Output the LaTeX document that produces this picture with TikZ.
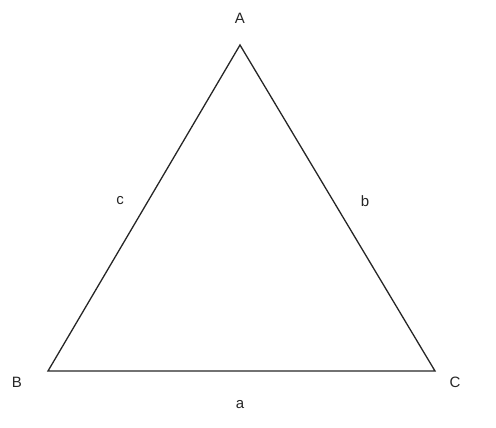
\documentclass[tikz,border=0pt]{standalone}
\usepackage{fontspec}
\setmainfont{Liberation Sans}
\begin{document}
\begin{tikzpicture}[x=1pt,y=-1pt,
  lbl/.style={font=\fontsize{15}{18}\selectfont, inner sep=0pt, text=black!85},
  side/.style={line width=1.3pt, line join=miter, black!85}]
\useasboundingbox (0,0) rectangle (496,428);
\coordinate (A) at (240,45);
\coordinate (B) at (48,371);
\coordinate (C) at (435,371);
\draw[side] (A) -- (B) -- (C) -- cycle;
\node[lbl] (la) at (240,18) {A};
\node[lbl] (lb) at (17,382) {B};
\node[lbl] (lc) at (455,382) {C};
\node[lbl] (sa) at (240,405) {a};
\node[lbl] (sb) at (365,201) {b};
\node[lbl] (sc) at (120,201) {c};
\end{tikzpicture}
\end{document}
